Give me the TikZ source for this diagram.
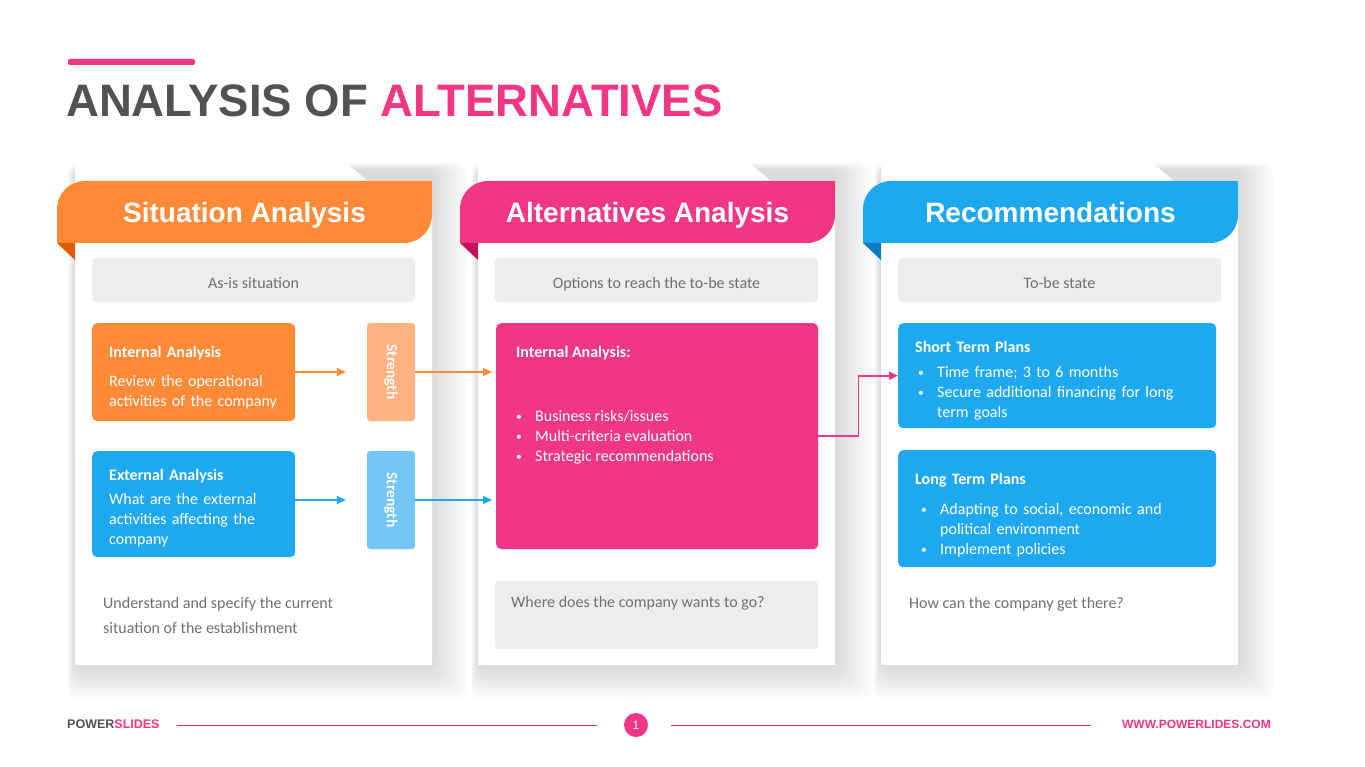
\documentclass[tikz,border=0pt]{standalone}
\usepackage{fontspec}
\setmainfont{Carlito}
\newfontfamily\headfont{Liberation Sans}
\usetikzlibrary{arrows.meta, positioning, calc}
\definecolor{pinkM}{RGB}{240,54,132}
\definecolor{pinkD}{RGB}{196,18,94}
\definecolor{orangeM}{RGB}{255,138,56}
\definecolor{orangeD}{RGB}{224,90,0}
\definecolor{orangeL}{RGB}{255,178,130}
\definecolor{blueM}{RGB}{30,168,240}
\definecolor{blueD}{RGB}{12,124,192}
\definecolor{blueL}{RGB}{116,198,246}
\definecolor{titlegray}{RGB}{82,82,82}
\definecolor{boxgray}{RGB}{237,237,237}
\definecolor{textgray}{RGB}{112,112,112}
\newcommand{\bul}{\makebox[19pt][l]{\raisebox{1pt}{\fontsize{11.5}{11.5}\selectfont\textbullet}}}

\begin{document}
\begin{tikzpicture}[x=1pt, y=-1pt,
    font=\fontsize{16}{20}\selectfont,
    header/.style={font=\headfont\bfseries\fontsize{28}{30}\selectfont, text=white, inner sep=0},
    subbox/.style={fill=boxgray, rounded corners=4, minimum width=323, minimum height=44,
                   text=textgray, inner sep=0, text height=17, text depth=0},
    infobox/.style={rounded corners=5, text=white, align=left, inner xsep=17, inner ysep=0,
                    anchor=north west},
    strbox/.style={rounded corners=3, minimum width=48, minimum height=98, text=white,
                   inner sep=0, font=\bfseries\fontsize{15.5}{15.5}\selectfont},
    link/.style={-{Triangle[length=9pt, width=8pt]}, line width=1.6pt},
    note/.style={text=textgray, align=left, anchor=base west, inner sep=0},
    footline/.style={pinkM!85!black, line width=0.9pt}
  ]
    \fill[white] (0,0) rectangle (1365,767);
    \useasboundingbox (0,0) rectangle (1365,767);

    % title
    \fill[pinkM, rounded corners=2] (68,59) rectangle (195,65);
    \node[anchor=base west, inner sep=0, font=\headfont\bfseries\fontsize{45.5}{50}\selectfont]
      (title) at (66,117) {\textcolor{titlegray}{ANALYSIS OF} \textcolor{pinkM}{ALTERNATIVES}};

    % three cards with shadow, header tab and fold
    \foreach \cx/\hc/\fc/\ttl/\nm in {57/orangeM/orangeD/Situation Analysis/sit,
        460/pinkM/pinkD/Alternatives Analysis/alt, 863/blueM/blueD/Recommendations/rec}{
      \foreach \k in {1,...,12}
        \fill[black, opacity=0.011, rounded corners=10]
          (\cx+18-0.6*\k, 170-0.6*\k) rectangle (\cx+375+3*\k, 665+3*\k);
      \fill[white] (\cx+18,162) -- (\cx+288,162) -- (\cx+311,181) -- (\cx+375,181)
        -- (\cx+375,665) -- (\cx+18,665) -- cycle;
      \fill[\hc] (\cx,243) -- (\cx,209) arc[start angle=180, end angle=270, radius=28]
        -- (\cx+375,181) -- (\cx+375,215) arc[start angle=0, end angle=90, radius=28] -- cycle;
      \fill[\fc] (\cx,243) -- (\cx+18,243) -- (\cx+18,260) -- cycle;
      \node[header, anchor=base] (hd-\nm) at (\cx+187.5,223) {\ttl};
    }

    % situation analysis
    \node[subbox] (sub-sit) at (253.5,280) {As-is situation};
    \node[infobox, fill=orangeM, minimum width=203, minimum height=98, text width=169]
      (intA) at (92,323) {\rule{0pt}{22pt}\textbf{Internal Analysis}\\[9pt]Review the operational\\activities of the company};
    \node[infobox, fill=blueM, minimum width=203, minimum height=106, text width=169]
      (extA) at (92,451) {\rule{0pt}{19pt}\textbf{External Analysis}\\[4pt]What are the external\\activities affecting the\\company};
    \node[strbox, fill=orangeL] (strA) at (391,372) {\rotatebox{-90}{Strength}};
    \node[strbox, fill=blueL] (strB) at (391,500) {\rotatebox{-90}{Strength}};
    \node[note, font=\fontsize{16}{25}\selectfont] (noteA) at (103,633)
      {Understand and specify the current\\situation of the establishment};

    % alternatives analysis
    \node[subbox] (sub-alt) at (656.5,280) {Options to reach the to-be state};
    \node[infobox, fill=pinkM, minimum width=322, minimum height=226] (altBox) at (496,323) {};
    \node[note, text=white] (altTtl) at (516,357) {\textbf{Internal Analysis:}};
    \node[note, text=white] (altList) at (516,461)
      {\bul Business risks/issues\\\bul Multi-criteria evaluation\\\bul Strategic recommendations};
    \node[subbox, anchor=north west, minimum height=68] (whereB) at (495,581) {};
    \node[note] (noteB) at (511,607) {Where does the company wants to go?};

    % recommendations
    \node[subbox] (sub-rec) at (1059.5,280) {To-be state};
    \node[infobox, fill=blueM, minimum width=318, minimum height=105, text width=284]
      (shortP) at (898,323) {\rule{0pt}{22pt}\textbf{Short Term Plans}\\[5pt]\hspace*{3pt}\bul Time frame; 3 to 6 months\\
        \hspace*{3pt}\bul Secure additional financing for long\\\hspace*{22pt}term goals};
    \node[infobox, fill=blueM, minimum width=318, minimum height=117, text width=284]
      (longP) at (898,450) {\rule{0pt}{24pt}\textbf{Long Term Plans}\\[10pt]\hspace*{6pt}\bul Adapting to social, economic and\\
        \hspace*{25pt}political environment\\\hspace*{6pt}\bul Implement policies};
    \node[note] (noteC) at (909,608) {How can the company get there?};

    % connectors
    \draw[link, orangeM, shorten >=21pt] (intA.east |- strA.west) -- (strA.west);
    \draw[link, orangeM, shorten >=4pt] (strA.east) -- (strA.east -| altBox.west);
    \draw[link, blueM, shorten >=21pt] (extA.east |- strB.west) -- (strB.west);
    \draw[link, blueM, shorten >=4pt] (strB.east) -- (strB.east -| altBox.west);
    \draw[link, pinkM] (altBox.east) -- ++(40,0) |- (shortP.west);

    % footer
    \node[anchor=base west, inner sep=0, font=\headfont\bfseries\fontsize{12.5}{14}\selectfont]
      (brand) at (67,728) {\textcolor{titlegray}{POWER}\textcolor{pinkM}{SLIDES}};
    \node[circle, fill=pinkM, minimum size=24, inner sep=0, text=white,
      font=\headfont\fontsize{12}{12}\selectfont] (pg) at (636,725) {1};
    \node[anchor=base east, inner sep=0, text=pinkM, font=\headfont\bfseries\fontsize{12}{14}\selectfont]
      (site) at (1271,728) {WWW.POWERLIDES.COM};
    \draw[footline] (177,725) -- (597,725);
    \draw[footline] (671,725) -- (1091,725);
  \end{tikzpicture}
\end{document}
